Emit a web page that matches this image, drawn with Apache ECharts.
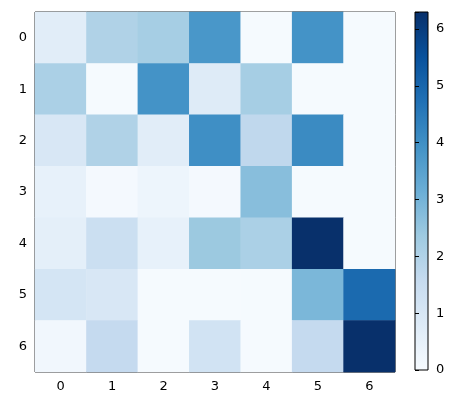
<!DOCTYPE html><html><head><meta charset="utf-8">
<script src="https://cdn.jsdelivr.net/npm/echarts@6/dist/echarts.min.js"></script>
<style>html,body{margin:0;background:#fff}#c{width:474px;height:411px}</style></head><body><div id="c"></div>
<script>
const xLabels=['0','1','2','3','4','5','6'];
const yLabels=['0','1','2','3','4','5','6'];
const row0=[0.7,2.0,2.2,3.8,0.05,3.9,0.05];
const row1=[2.1,0.05,3.9,0.8,2.2,0.05,0.05];
const row2=[1.0,2.0,0.7,4.0,1.7,4.1,0.05];
const row3=[0.5,0.1,0.3,0.1,2.7,0.05,0.05];
const row4=[0.6,1.4,0.5,2.4,2.1,6.3,0.05];
const row5=[1.1,1.0,0.05,0.05,0.05,2.9,4.9];
const row6=[0.2,1.6,0.05,1.2,0.05,1.6,6.3];
const rows=[row0,row1,row2,row3,row4,row5,row6];
const vmax=6.3;
const colorbarTicks=[0,1,2,3,4,5,6];
const blues=['#f7fbff','#deebf7','#c6dbef','#9ecae1','#6baed6','#4292c6','#2171b5','#08519c','#08306b'];
const data=[];rows.forEach((r,i)=>r.forEach((v,j)=>data.push([j,i,v])));
const font={fontFamily:'DejaVu Sans',fontSize:13,color:'#000'};
const chart=echarts.init(document.getElementById('c'));
chart.setOption({
 animation:false,
 grid:[{left:35,top:12,width:360,height:360,show:true,borderColor:'#000',borderWidth:1},
       {left:415,top:12,width:13,height:358,show:true,borderColor:'#000',borderWidth:1}],
 xAxis:[{type:'category',data:xLabels,gridIndex:0,axisLine:{show:false},axisTick:{alignWithLabel:true,length:4,lineStyle:{color:'#000'}},axisLabel:{...font,margin:8},splitLine:{show:false}},
        {type:'value',gridIndex:1,show:false,min:0,max:1}],
 yAxis:[{type:'category',data:yLabels,inverse:true,gridIndex:0,axisLine:{show:false},axisTick:{alignWithLabel:true,length:4,lineStyle:{color:'#000'}},axisLabel:{...font,margin:8}},
        {type:'value',gridIndex:1,position:'right',min:0,max:vmax,interval:1,axisLine:{show:false},axisTick:{show:true,length:4,lineStyle:{color:'#000'}},axisLabel:{...font,margin:8,customValues:colorbarTicks},splitLine:{show:false}}],
 visualMap:{show:false,min:0,max:vmax,seriesIndex:0,inRange:{color:blues}},
 graphic:[{type:'rect',shape:{x:415,y:12,width:13,height:358},z:-1,style:{fill:new echarts.graphic.LinearGradient(0,1,0,0,blues.map((c,i)=>({offset:i/(blues.length-1),color:c})))}}],
 series:[{type:'heatmap',xAxisIndex:0,yAxisIndex:0,data:data,itemStyle:{borderWidth:0}}]
});
</script></body></html>
